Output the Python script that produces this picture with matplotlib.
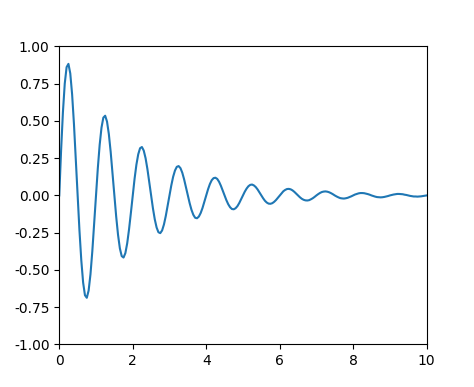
import numpy as np
import matplotlib
matplotlib.use("Agg")
import matplotlib.pyplot as plt

# samples every 0.05 on the x axis (0 .. 10)
t = np.linspace(0, 10, 201)
y = [
    0.000, 0.301, 0.559, 0.751, 0.861, 0.883, 0.819, 0.679, 0.481, 0.247,
    0.000, -0.235, -0.435, -0.585, -0.670, -0.687, -0.638, -0.529, -0.375, -0.192,
    0.000, 0.183, 0.339, 0.455, 0.522, 0.535, 0.496, 0.412, 0.292, 0.150,
    0.000, -0.142, -0.264, -0.355, -0.407, -0.417, -0.387, -0.321, -0.227, -0.117,
    0.000, 0.111, 0.206, 0.276, 0.317, 0.325, 0.301, 0.250, 0.177, 0.091,
    0.000, -0.086, -0.160, -0.215, -0.247, -0.253, -0.235, -0.195, -0.138, -0.071,
    0.000, 0.067, 0.125, 0.167, 0.192, 0.197, 0.183, 0.152, 0.107, 0.055,
    0.000, -0.052, -0.097, -0.130, -0.150, -0.153, -0.142, -0.118, -0.084, -0.043,
    0.000, 0.041, 0.076, 0.102, 0.116, 0.119, 0.111, 0.092, 0.065, 0.033,
    0.000, -0.032, -0.059, -0.079, -0.091, -0.093, -0.086, -0.072, -0.051, -0.026,
    0.000, 0.025, 0.046, 0.062, 0.071, 0.073, 0.067, 0.056, 0.040, 0.020,
    0.000, -0.019, -0.036, -0.048, -0.055, -0.056, -0.052, -0.043, -0.031, -0.016,
    0.000, 0.015, 0.028, 0.037, 0.043, 0.044, 0.041, 0.034, 0.024, 0.012,
    0.000, -0.012, -0.022, -0.029, -0.033, -0.034, -0.032, -0.026, -0.019, -0.010,
    0.000, 0.009, 0.017, 0.023, 0.026, 0.027, 0.025, 0.021, 0.015, 0.008,
    0.000, -0.007, -0.013, -0.018, -0.020, -0.021, -0.019, -0.016, -0.011, -0.006,
    0.000, 0.006, 0.010, 0.014, 0.016, 0.016, 0.015, 0.012, 0.009, 0.005,
    0.000, -0.004, -0.008, -0.011, -0.012, -0.013, -0.012, -0.010, -0.007, -0.004,
    0.000, 0.003, 0.006, 0.008, 0.010, 0.010, 0.009, 0.008, 0.005, 0.003,
    0.000, -0.003, -0.005, -0.007, -0.007, -0.008, -0.007, -0.006, -0.004, -0.002,
    0.000,
]

fig, ax = plt.subplots(figsize=(4.74, 3.87), dpi=100)
ax.plot(t, y, color='#1f77b4', linewidth=1.5)
ax.set_xlim(0, 10)
ax.set_ylim(-1, 1)
ax.set_yticks(np.arange(-1, 1.01, 0.25))
ax.set_yticklabels([f"{v:.2f}" for v in np.arange(-1, 1.01, 0.25)])
fig.savefig("out.png", dpi=100)
